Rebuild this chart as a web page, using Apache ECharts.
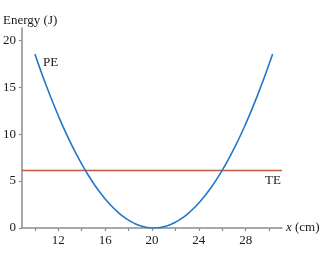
<!DOCTYPE html>
<html><head><meta charset="utf-8">
<script src="https://cdn.jsdelivr.net/npm/echarts@6/dist/echarts.min.js"></script>
<style>html,body{margin:0;padding:0;background:#fff}#c{width:320px;height:260px}</style>
</head><body><div id="c"></div>
<script>
var xPos = [10,10.5,11,11.5,12,12.5,13,13.5,14,14.5,15,15.5,16,16.5,17,17.5,18,18.5,19,19.5,20,20.5,21,21.5,22,22.5,23,23.5,24,24.5,25,25.5,26,26.5,27,27.5,28,28.5,29,29.5,30,30.3];
var peValues = [18.54,16.76,15.07,13.47,11.96,10.53,9.20,7.96,6.81,5.75,4.77,3.89,3.10,2.40,1.79,1.26,0.83,0.49,0.24,0.08,0.00,0.02,0.13,0.33,0.62,0.99,1.46,2.02,2.67,3.41,4.23,5.15,6.16,7.26,8.45,9.72,11.09,12.55,14.10,15.74,17.46,18.54];
var teX = [8.9, 31.1];
var teValues = [6.13, 6.13];
var xTickValues = [10,12,14,16,18,20,22,24,26,28,30];
var xLabelValues = [12,16,20,24,28];
var yTickValues = [0,5,10,15,20];

var font = '"Liberation Serif", "DejaVu Serif", serif';
var axisColor = '#8c8c8c';
var txt = '#1a1a1a';
var chart = echarts.init(document.getElementById('c'));
chart.setOption({
  animation: false,
  grid: {left: 22, right: 38, top: 28, bottom: 32, containLabel: false, outerBoundsMode: 'none'},
  xAxis: {
    type: 'value', min: 8.9, max: 31.1,
    axisLine: {show: true, lineStyle: {color: axisColor, width: 1.5}},
    axisTick: {show: true, length: 3, customValues: xTickValues, lineStyle: {color: axisColor, width: 1.2}},
    axisLabel: {customValues: xLabelValues, margin: 6, fontFamily: font, fontSize: 13, color: txt},
    splitLine: {show: false},
    name: '{i|x} (cm)', nameLocation: 'end', nameGap: 4,
    nameTextStyle: {fontFamily: font, fontSize: 13, color: txt, align: 'left', verticalAlign: 'middle',
      rich: {i: {fontFamily: font, fontSize: 13, fontStyle: 'italic', color: txt}}}
  },
  yAxis: {
    type: 'value', min: 0, max: 21.3,
    axisLine: {show: true, lineStyle: {color: axisColor, width: 1.5}},
    axisTick: {show: true, length: 3, customValues: yTickValues, lineStyle: {color: axisColor, width: 1.2}},
    axisLabel: {customValues: yTickValues, margin: 6, fontFamily: font, fontSize: 13, color: txt},
    splitLine: {show: false}
  },
  series: [
    {type: 'line', data: teX.map(function(x, i){return [x, teValues[i]];}), showSymbol: false,
     lineStyle: {color: '#bd5a3f', width: 1.5}, z: 2},
    {type: 'line', data: xPos.map(function(x, i){return [x, peValues[i]];}), smooth: true, showSymbol: false,
     lineStyle: {color: '#1f78c8', width: 1.6}, z: 3}
  ],
  graphic: [
    {type: 'text', left: 3, top: 14, style: {text: 'Energy (J)', font: '13px ' + font, fill: txt}},
    {type: 'text', left: 43, top: 56, style: {text: 'PE', font: '13px ' + font, fill: txt}},
    {type: 'text', left: 265, top: 174, style: {text: 'TE', font: '13px ' + font, fill: txt}}
  ]
});
</script></body></html>
